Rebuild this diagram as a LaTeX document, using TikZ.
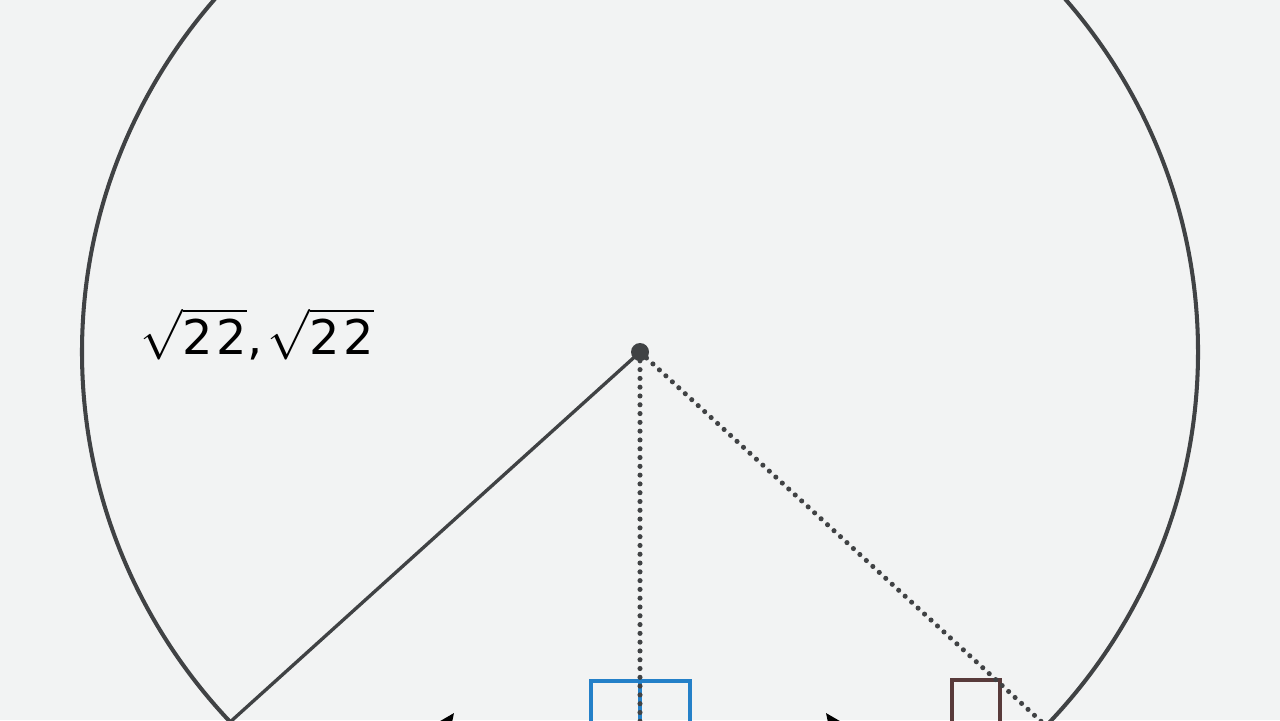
\documentclass[tikz,border=0pt]{standalone}
\usepackage{fontspec}
\setmainfont{DejaVu Sans}
\usetikzlibrary{arrows.meta}
\definecolor{paperColor}{RGB}{242,243,243}
\definecolor{rimColor}{RGB}{64,66,68}
\definecolor{boxBlue}{RGB}{36,128,200}
\definecolor{boxBrown}{RGB}{88,58,58}
\tikzstyle{board} = [x = .01cm, y = -.01cm]
\tikzstyle{rimLine} = [color=rimColor, line width=1.15pt]
\tikzstyle{radiusLine} = [color=rimColor, line width=.95pt]
\tikzstyle{dotLine} = [color=rimColor, line width=1.45pt, line cap=round, dash pattern=on 0pt off 2.5pt]
\tikzstyle{blueBox} = [color=boxBlue, line width=1pt]
\tikzstyle{brownBox} = [color=boxBrown, line width=1pt]
\tikzstyle{tipLine} = [color=black, line width=1pt, -{Stealth[length=9pt, width=8pt]}]
\begin{document}
\begin{tikzpicture}[board]
  \fill [paperColor] (0,0) rectangle (1280,720);
  \useasboundingbox (0,0) rectangle (1280,720);
  \clip (0,0) rectangle (1280,720);
  % centre and rim
  \coordinate (O) at (640,352);
  \draw [rimLine] (O) ellipse [x radius=558, y radius=545];
  % boxes at the foot
  \draw [blueBox] (591,681) rectangle (640,740);
  \draw [blueBox] (640,681) rectangle (690,740);
  \draw [brownBox] (952,680) rectangle (1000,740);
  \coordinate (L) at (188,760);
  \coordinate (R) at (1083,760);
  \coordinate (D) at (640,760);
  \draw [radiusLine] (O) -- (L);
  \draw [dotLine] (O) -- (D);
  \draw [dotLine] (O) -- (R);
  % arrow tips below
  \coordinate (tipA) at (454,713);
  \coordinate (tipB) at (826,713);
  \draw [tipLine] (420,760) -- (tipA);
  \draw [tipLine] (860,760) -- (tipB);
  \fill [rimColor] (O) circle (9);
  \node [anchor=west, font=\fontsize{13.6}{16}\selectfont, inner sep=0pt] (coords) at (140,334) {$\sqrt{\hbox{2\kern1pt2}}$,\kern1.5pt$\sqrt{\hbox{2\kern1pt2}}$};
\end{tikzpicture}
\end{document}
